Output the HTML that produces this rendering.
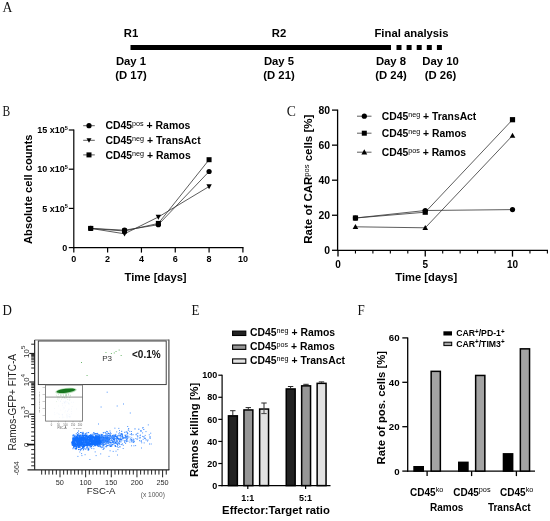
<!DOCTYPE html>
<html lang="en"><head><meta charset="utf-8"><title>Figure</title>
<style>
html,body{margin:0;padding:0;background:#fff;}
body{width:550px;height:521px;overflow:hidden;font-family:"Liberation Sans",Arial,sans-serif;}
svg{display:block;}
svg text{font-family:"Liberation Sans",Arial,sans-serif;}
svg text.pl{font-family:"Liberation Serif","DejaVu Serif",serif;}
</style></head><body>
<svg width="550" height="521" viewBox="0 0 550 521">
<rect width="550" height="521" fill="#fff"/>
<text class="pl" font-size="13.7" fill="#111" transform="translate(2.5,12.0) scale(1.0,1)">A</text>
<text class="pl" font-size="13.7" fill="#111" transform="translate(2.6,115.6) scale(0.84,1)">B</text>
<text class="pl" font-size="13.7" fill="#111" transform="translate(286.7,116.1) scale(1.0,1)">C</text>
<text class="pl" font-size="13.7" fill="#111" transform="translate(2.6,315.4) scale(0.95,1)">D</text>
<text class="pl" font-size="13.7" fill="#111" transform="translate(191.4,315.3) scale(0.95,1)">E</text>
<text class="pl" font-size="13.7" fill="#111" transform="translate(357.4,315.3) scale(0.95,1)">F</text>
<rect x="130.5" y="45" width="260.5" height="5" fill="#000"/>
<rect x="396.5" y="45" width="5" height="5" fill="#000"/>
<rect x="406.6" y="45" width="5" height="5" fill="#000"/>
<rect x="416.7" y="45" width="5" height="5" fill="#000"/>
<rect x="426.8" y="45" width="5" height="5" fill="#000"/>
<rect x="436.9" y="45" width="5" height="5" fill="#000"/>
<text x="131" y="36.5" font-size="11.3" font-weight="bold" text-anchor="middle" fill="#000" >R1</text>
<text x="279" y="36.5" font-size="11.3" font-weight="bold" text-anchor="middle" fill="#000" >R2</text>
<text x="411.5" y="36.5" font-size="11.3" font-weight="bold" text-anchor="middle" fill="#000" >Final analysis</text>
<text x="131" y="65.3" font-size="11.3" font-weight="bold" text-anchor="middle" fill="#000" >Day 1</text>
<text x="131" y="79.3" font-size="11.3" font-weight="bold" text-anchor="middle" fill="#000" >(D 17)</text>
<text x="279" y="65.3" font-size="11.3" font-weight="bold" text-anchor="middle" fill="#000" >Day 5</text>
<text x="279" y="79.3" font-size="11.3" font-weight="bold" text-anchor="middle" fill="#000" >(D 21)</text>
<text x="391" y="65.3" font-size="11.3" font-weight="bold" text-anchor="middle" fill="#000" >Day 8</text>
<text x="391" y="79.3" font-size="11.3" font-weight="bold" text-anchor="middle" fill="#000" >(D 24)</text>
<text x="440.5" y="65.3" font-size="11.3" font-weight="bold" text-anchor="middle" fill="#000" >Day 10</text>
<text x="440.5" y="79.3" font-size="11.3" font-weight="bold" text-anchor="middle" fill="#000" >(D 26)</text>
<line x1="73.8" y1="129.5" x2="73.8" y2="248.2" stroke="#000" stroke-width="1.2" />
<line x1="73.2" y1="247.6" x2="243.5" y2="247.6" stroke="#000" stroke-width="1.2" />
<line x1="68.8" y1="247.6" x2="73.8" y2="247.6" stroke="#000" stroke-width="1.2" />
<text x="67.3" y="250.79999999999998" font-size="9" font-weight="bold" text-anchor="end" fill="#000" >0</text>
<line x1="68.8" y1="208.39999999999998" x2="73.8" y2="208.39999999999998" stroke="#000" stroke-width="1.2" />
<text x="67.8" y="211.59999999999997" font-size="9" font-weight="bold" text-anchor="end" fill="#000" >5 x10<tspan font-size="5.5" font-weight="bold" dy="-3.5">5</tspan><tspan dy="3.5" font-size="1">&#8203;</tspan></text>
<line x1="68.8" y1="169.2" x2="73.8" y2="169.2" stroke="#000" stroke-width="1.2" />
<text x="67.8" y="172.39999999999998" font-size="9" font-weight="bold" text-anchor="end" fill="#000" >10 x10<tspan font-size="5.5" font-weight="bold" dy="-3.5">5</tspan><tspan dy="3.5" font-size="1">&#8203;</tspan></text>
<line x1="68.8" y1="130.0" x2="73.8" y2="130.0" stroke="#000" stroke-width="1.2" />
<text x="67.8" y="133.2" font-size="9" font-weight="bold" text-anchor="end" fill="#000" >15 x10<tspan font-size="5.5" font-weight="bold" dy="-3.5">5</tspan><tspan dy="3.5" font-size="1">&#8203;</tspan></text>
<line x1="73.8" y1="247.6" x2="73.8" y2="252.6" stroke="#000" stroke-width="1.2" />
<text x="73.8" y="262" font-size="9" font-weight="bold" text-anchor="middle" fill="#000" >0</text>
<line x1="107.62" y1="247.6" x2="107.62" y2="252.6" stroke="#000" stroke-width="1.2" />
<text x="107.62" y="262" font-size="9" font-weight="bold" text-anchor="middle" fill="#000" >2</text>
<line x1="141.44" y1="247.6" x2="141.44" y2="252.6" stroke="#000" stroke-width="1.2" />
<text x="141.44" y="262" font-size="9" font-weight="bold" text-anchor="middle" fill="#000" >4</text>
<line x1="175.26" y1="247.6" x2="175.26" y2="252.6" stroke="#000" stroke-width="1.2" />
<text x="175.26" y="262" font-size="9" font-weight="bold" text-anchor="middle" fill="#000" >6</text>
<line x1="209.07999999999998" y1="247.6" x2="209.07999999999998" y2="252.6" stroke="#000" stroke-width="1.2" />
<text x="209.07999999999998" y="262" font-size="9" font-weight="bold" text-anchor="middle" fill="#000" >8</text>
<line x1="242.89999999999998" y1="247.6" x2="242.89999999999998" y2="252.6" stroke="#000" stroke-width="1.2" />
<text x="242.89999999999998" y="262" font-size="9" font-weight="bold" text-anchor="middle" fill="#000" >10</text>
<text x="155.6" y="281" font-size="11.2" font-weight="bold" text-anchor="middle" fill="#000" >Time [days]</text>
<text x="0" y="0" font-size="11.2" font-weight="bold" text-anchor="middle" fill="#000" transform="translate(32.2,189.3) rotate(-90)">Absolute cell counts</text>
<polyline fill="none" stroke="#333" stroke-width="0.8" points="90.71,228.4 124.53,230.2 158.35,224.7 209.07999999999998,171.5"/>
<polyline fill="none" stroke="#333" stroke-width="0.8" points="90.71,228.4 124.53,233.8 158.35,217 209.07999999999998,186.5"/>
<polyline fill="none" stroke="#333" stroke-width="0.8" points="90.71,228.4 124.53,231 158.35,223.4 209.07999999999998,159.7"/>
<circle cx="90.71" cy="228.4" r="2.6" fill="#000"/>
<circle cx="124.53" cy="230.2" r="2.6" fill="#000"/>
<circle cx="158.35" cy="224.7" r="2.6" fill="#000"/>
<circle cx="209.07999999999998" cy="171.5" r="2.6" fill="#000"/>
<polygon points="90.71,231.1 88.00999999999999,226.24 93.41,226.24" fill="#000"/>
<polygon points="124.53,236.5 121.83,231.64000000000001 127.23,231.64000000000001" fill="#000"/>
<polygon points="158.35,219.7 155.65,214.84 161.04999999999998,214.84" fill="#000"/>
<polygon points="209.07999999999998,189.2 206.38,184.34 211.77999999999997,184.34" fill="#000"/>
<rect x="88.21" y="225.9" width="5.0" height="5.0" fill="#000"/>
<rect x="122.03" y="228.5" width="5.0" height="5.0" fill="#000"/>
<rect x="155.85" y="220.9" width="5.0" height="5.0" fill="#000"/>
<rect x="206.57999999999998" y="157.2" width="5.0" height="5.0" fill="#000"/>
<line x1="83.2" y1="125.7" x2="94.8" y2="125.7" stroke="#333" stroke-width="0.8" />
<circle cx="89" cy="125.7" r="2.6" fill="#000"/>
<line x1="83.2" y1="140.3" x2="94.8" y2="140.3" stroke="#333" stroke-width="0.8" />
<polygon points="89,142.8 86.5,138.3 91.5,138.3" fill="#000"/>
<line x1="83.2" y1="154.9" x2="94.8" y2="154.9" stroke="#333" stroke-width="0.8" />
<rect x="86.5" y="152.4" width="5.0" height="5.0" fill="#000"/>
<text x="105.4" y="128.9" font-size="10.45" font-weight="bold" text-anchor="start" fill="#000" >CD45<tspan font-size="7.2" font-weight="normal" dy="-3.2">pos</tspan><tspan dy="3.2" font-size="1">&#8203;</tspan> + Ramos</text>
<text x="105.4" y="143.8" font-size="10.45" font-weight="bold" text-anchor="start" fill="#000" >CD45<tspan font-size="7.2" font-weight="normal" dy="-3.2">neg</tspan><tspan dy="3.2" font-size="1">&#8203;</tspan> + TransAct</text>
<text x="105.4" y="158.8" font-size="10.45" font-weight="bold" text-anchor="start" fill="#000" >CD45<tspan font-size="7.2" font-weight="normal" dy="-3.2">neg</tspan><tspan dy="3.2" font-size="1">&#8203;</tspan> + Ramos</text>
<line x1="337.6" y1="109.6" x2="337.6" y2="250.9" stroke="#000" stroke-width="1.3" />
<line x1="337.0" y1="250.3" x2="548" y2="250.3" stroke="#000" stroke-width="1.3" />
<line x1="332" y1="250.3" x2="337.6" y2="250.3" stroke="#000" stroke-width="1.3" />
<text x="330" y="254.0" font-size="10.4" font-weight="bold" text-anchor="end" fill="#000" >0</text>
<line x1="332" y1="215.25" x2="337.6" y2="215.25" stroke="#000" stroke-width="1.3" />
<text x="330" y="218.95" font-size="10.4" font-weight="bold" text-anchor="end" fill="#000" >20</text>
<line x1="332" y1="180.20000000000002" x2="337.6" y2="180.20000000000002" stroke="#000" stroke-width="1.3" />
<text x="330" y="183.9" font-size="10.4" font-weight="bold" text-anchor="end" fill="#000" >40</text>
<line x1="332" y1="145.15000000000003" x2="337.6" y2="145.15000000000003" stroke="#000" stroke-width="1.3" />
<text x="330" y="148.85000000000002" font-size="10.4" font-weight="bold" text-anchor="end" fill="#000" >60</text>
<line x1="332" y1="110.10000000000002" x2="337.6" y2="110.10000000000002" stroke="#000" stroke-width="1.3" />
<text x="330" y="113.80000000000003" font-size="10.4" font-weight="bold" text-anchor="end" fill="#000" >80</text>
<line x1="338.0" y1="250.3" x2="338.0" y2="256.6" stroke="#000" stroke-width="1.3" />
<text x="338.0" y="267.5" font-size="10" font-weight="bold" text-anchor="middle" fill="#000" >0</text>
<line x1="355.45" y1="250.3" x2="355.45" y2="253.60000000000002" stroke="#000" stroke-width="1.1" />
<line x1="372.9" y1="250.3" x2="372.9" y2="253.60000000000002" stroke="#000" stroke-width="1.1" />
<line x1="390.35" y1="250.3" x2="390.35" y2="253.60000000000002" stroke="#000" stroke-width="1.1" />
<line x1="407.8" y1="250.3" x2="407.8" y2="253.60000000000002" stroke="#000" stroke-width="1.1" />
<line x1="425.25" y1="250.3" x2="425.25" y2="256.6" stroke="#000" stroke-width="1.3" />
<text x="425.25" y="267.5" font-size="10" font-weight="bold" text-anchor="middle" fill="#000" >5</text>
<line x1="442.7" y1="250.3" x2="442.7" y2="253.60000000000002" stroke="#000" stroke-width="1.1" />
<line x1="460.15" y1="250.3" x2="460.15" y2="253.60000000000002" stroke="#000" stroke-width="1.1" />
<line x1="477.6" y1="250.3" x2="477.6" y2="253.60000000000002" stroke="#000" stroke-width="1.1" />
<line x1="495.04999999999995" y1="250.3" x2="495.04999999999995" y2="253.60000000000002" stroke="#000" stroke-width="1.1" />
<line x1="512.5" y1="250.3" x2="512.5" y2="256.6" stroke="#000" stroke-width="1.3" />
<text x="512.5" y="267.5" font-size="10" font-weight="bold" text-anchor="middle" fill="#000" >10</text>
<line x1="529.95" y1="250.3" x2="529.95" y2="253.60000000000002" stroke="#000" stroke-width="1.1" />
<line x1="547.4" y1="250.3" x2="547.4" y2="253.60000000000002" stroke="#000" stroke-width="1.1" />
<text x="426.3" y="281" font-size="11.2" font-weight="bold" text-anchor="middle" fill="#000" >Time [days]</text>
<text x="0" y="0" font-size="11.5" font-weight="bold" text-anchor="middle" fill="#000" transform="translate(312,179.2) rotate(-90)">Rate of CAR<tspan font-size="7.5" font-weight="normal" dy="-3.5">pos</tspan><tspan dy="3.5" font-size="1">&#8203;</tspan> cells [%]</text>
<polyline fill="none" stroke="#333" stroke-width="0.8" points="355.45,218 425.25,210.5 512.5,209.6"/>
<polyline fill="none" stroke="#333" stroke-width="0.8" points="355.45,218 425.25,212.2 512.5,119.7"/>
<polyline fill="none" stroke="#333" stroke-width="0.8" points="355.45,226.8 425.25,227.8 512.5,135.6"/>
<circle cx="355.45" cy="218" r="2.6" fill="#000"/>
<circle cx="425.25" cy="210.5" r="2.6" fill="#000"/>
<circle cx="512.5" cy="209.6" r="2.6" fill="#000"/>
<polygon points="355.45,224.0 352.65,229.04000000000002 358.25,229.04000000000002" fill="#000"/>
<polygon points="425.25,225.0 422.45,230.04000000000002 428.05,230.04000000000002" fill="#000"/>
<polygon points="512.5,132.79999999999998 509.7,137.84 515.3,137.84" fill="#000"/>
<rect x="352.84999999999997" y="215.4" width="5.2" height="5.2" fill="#000"/>
<rect x="422.65" y="209.6" width="5.2" height="5.2" fill="#000"/>
<rect x="509.9" y="117.10000000000001" width="5.2" height="5.2" fill="#000"/>
<line x1="357" y1="116.2" x2="371.5" y2="116.2" stroke="#333" stroke-width="0.8" />
<circle cx="364.3" cy="116.2" r="2.6" fill="#000"/>
<line x1="357" y1="133.2" x2="371.5" y2="133.2" stroke="#333" stroke-width="0.8" />
<rect x="361.8" y="130.7" width="5.0" height="5.0" fill="#000"/>
<line x1="357" y1="152.2" x2="371.5" y2="152.2" stroke="#333" stroke-width="0.8" />
<polygon points="364.3,149.29999999999998 361.40000000000003,154.51999999999998 367.2,154.51999999999998" fill="#000"/>
<text x="381.8" y="119.8" font-size="10.35" font-weight="bold" text-anchor="start" fill="#000" >CD45<tspan font-size="7.2" font-weight="normal" dy="-3.2">neg</tspan><tspan dy="3.2" font-size="1">&#8203;</tspan> + TransAct</text>
<text x="381.8" y="136.9" font-size="10.35" font-weight="bold" text-anchor="start" fill="#000" >CD45<tspan font-size="7.2" font-weight="normal" dy="-3.2">neg</tspan><tspan dy="3.2" font-size="1">&#8203;</tspan> + Ramos</text>
<text x="381.8" y="156" font-size="10.35" font-weight="bold" text-anchor="start" fill="#000" >CD45<tspan font-size="7.2" font-weight="normal" dy="-3.2">pos</tspan><tspan dy="3.2" font-size="1">&#8203;</tspan> + Ramos</text>
<path d="M34.6,470 V340 H168.8" fill="none" stroke="#777" stroke-width="1.0"/>
<line x1="168.9" y1="339.6" x2="168.9" y2="470" stroke="#4a4a4a" stroke-width="1.2" />
<line x1="27.5" y1="469.9" x2="169.3" y2="469.9" stroke="#222" stroke-width="1.2" />
<line x1="34.6" y1="340" x2="34.6" y2="470" stroke="#333" stroke-width="1.2" />
<rect x="38.3" y="341" width="127.9" height="43.6" fill="none" stroke="#2f2f2f" stroke-width="0.9"/>
<rect x="45.6" y="385" width="36.9" height="36.1" fill="none" stroke="#666" stroke-width="0.8"/>
<line x1="45.6" y1="397.1" x2="82.5" y2="397.1" stroke="#666" stroke-width="0.7" />
<ellipse cx="66" cy="390.7" rx="9.6" ry="2.0" fill="#0a6312" transform="rotate(-7 66 390.7)"/>
<ellipse cx="66" cy="390.9" rx="10.8" ry="2.9" fill="#2a9a30" opacity="0.35" transform="rotate(-7 66 390.9)"/>
<path d="M63.0,395.5h.5M63.1,394.9h.5M60.3,394.6h.5M68.4,395.3h.5M68.1,394.7h.5M65.6,394.6h.5M57.3,396.6h.5M66.0,395.5h.5M57.2,399.2h.5M60.4,395.4h.5M65.2,394.1h.5M66.1,395.9h.5M65.2,395.2h.5M61.4,399.2h.5M66.2,397.6h.5M61.5,396.2h.5M62.6,394.3h.5M66.5,394.7h.5M62.2,396.9h.5M61.9,397.7h.5M60.8,394.7h.5M65.7,398.5h.5M64.2,397.9h.5M55.9,395.0h.5M63.6,396.5h.5M66.0,394.2h.5M58.1,396.5h.5M66.7,396.8h.5M69.8,395.1h.5M64.5,397.9h.5M66.5,395.8h.5M62.2,397.8h.5M60.1,395.6h.5M69.2,400.1h.5M58.2,394.7h.5M69.8,395.7h.5M56.4,401.6h.5M65.4,396.2h.5M59.5,396.9h.5M68.4,394.5h.5M65.0,395.3h.5M70.4,395.9h.5M66.1,395.6h.5M57.7,397.8h.5M67.8,395.6h.5M56.1,395.9h.5M67.4,399.4h.5M63.3,397.1h.5M58.8,398.8h.5M66.2,394.5h.5M65.3,395.9h.5M64.5,397.4h.5M61.4,395.2h.5M68.2,394.1h.5M60.5,396.8h.5M69.9,395.3h.5M58.5,394.4h.5M63.4,394.9h.5M69.6,397.1h.5M69.0,397.8h.5" stroke="#5aa860" stroke-width=".5" opacity=".6" fill="none"/>
<path d="M60.1,401.0h.5M67.2,411.1h.5M65.7,403.0h.5M64.7,402.1h.5M63.1,399.0h.5M65.4,401.9h.5M67.8,399.5h.5M66.8,415.6h.5M61.9,403.8h.5M62.1,405.6h.5M62.3,415.1h.5M65.9,417.9h.5M58.4,400.6h.5M65.2,400.9h.5M61.8,414.7h.5M67.3,402.1h.5M76.2,409.0h.5M65.8,401.8h.5M62.9,409.0h.5M63.7,417.6h.5M69.0,404.0h.5M58.2,406.0h.5M68.3,409.1h.5M71.5,413.8h.5M62.3,414.4h.5M67.1,417.7h.5M69.4,414.5h.5M56.8,413.1h.5M64.9,405.8h.5M70.0,399.6h.5M68.0,403.9h.5M64.7,412.2h.5M69.2,416.8h.5M62.5,417.8h.5M68.6,403.2h.5M62.7,403.3h.5M65.1,410.9h.5M67.2,416.1h.5M67.1,411.4h.5M59.2,414.2h.5M70.3,416.3h.5M67.7,413.9h.5M64.0,402.4h.5M58.3,414.0h.5M59.5,417.5h.5M71.8,406.5h.5M54.1,412.8h.5M71.0,402.2h.5M66.0,416.2h.5M66.0,414.3h.5M69.7,417.6h.5M71.4,411.5h.5M60.3,401.5h.5M69.1,399.3h.5M71.1,409.0h.5M62.7,416.7h.5M54.7,414.7h.5M68.1,403.0h.5M64.0,403.6h.5M68.2,410.1h.5M63.7,401.5h.5M69.2,416.3h.5M60.6,410.1h.5M68.4,416.2h.5M54.2,408.5h.5M69.3,409.1h.5M63.0,407.4h.5M63.9,402.5h.5M73.0,402.3h.5M64.2,408.0h.5"  stroke="#9bbcf0" stroke-width=".5" opacity=".35" fill="none"/>
<text x="0" y="0" font-size="2.2" font-weight="normal" text-anchor="middle" fill="#777" transform="translate(40.3,402) rotate(-90)">Ramos-GFP+ FITC-A</text>
<text x="43.5" y="388" font-size="1.8" font-weight="normal" text-anchor="middle" fill="#777" >10</text>
<line x1="44.3" y1="387.5" x2="45.6" y2="387.5" stroke="#888" stroke-width="0.4" />
<text x="43.5" y="395" font-size="1.8" font-weight="normal" text-anchor="middle" fill="#777" >10</text>
<line x1="44.3" y1="394.5" x2="45.6" y2="394.5" stroke="#888" stroke-width="0.4" />
<text x="43.5" y="402" font-size="1.8" font-weight="normal" text-anchor="middle" fill="#777" >10</text>
<line x1="44.3" y1="401.5" x2="45.6" y2="401.5" stroke="#888" stroke-width="0.4" />
<text x="43.5" y="409" font-size="1.8" font-weight="normal" text-anchor="middle" fill="#777" >10</text>
<line x1="44.3" y1="408.5" x2="45.6" y2="408.5" stroke="#888" stroke-width="0.4" />
<text x="43.5" y="416" font-size="1.8" font-weight="normal" text-anchor="middle" fill="#777" >10</text>
<line x1="44.3" y1="415.5" x2="45.6" y2="415.5" stroke="#888" stroke-width="0.4" />
<text x="51.5" y="425.6" font-size="2.6" font-weight="normal" text-anchor="middle" fill="#666" >0</text>
<line x1="51.5" y1="421.1" x2="51.5" y2="422.4" stroke="#777" stroke-width="0.4" />
<text x="58.5" y="425.6" font-size="2.6" font-weight="normal" text-anchor="middle" fill="#666" >50</text>
<line x1="58.5" y1="421.1" x2="58.5" y2="422.4" stroke="#777" stroke-width="0.4" />
<text x="65.5" y="425.6" font-size="2.6" font-weight="normal" text-anchor="middle" fill="#666" >100</text>
<line x1="65.5" y1="421.1" x2="65.5" y2="422.4" stroke="#777" stroke-width="0.4" />
<text x="73" y="425.6" font-size="2.6" font-weight="normal" text-anchor="middle" fill="#666" >150</text>
<line x1="73" y1="421.1" x2="73" y2="422.4" stroke="#777" stroke-width="0.4" />
<text x="80" y="425.6" font-size="2.6" font-weight="normal" text-anchor="middle" fill="#666" >200</text>
<line x1="80" y1="421.1" x2="80" y2="422.4" stroke="#777" stroke-width="0.4" />
<text x="62" y="428.8" font-size="3" font-weight="normal" text-anchor="middle" fill="#555" >FSC-A</text>
<text x="77.5" y="428.8" font-size="2.4" font-weight="normal" text-anchor="middle" fill="#666" >(x 1000)</text>
<line x1="31.2" y1="344.2" x2="34.6" y2="344.2" stroke="#222" stroke-width="1" />
<line x1="31.2" y1="354.6" x2="34.6" y2="354.6" stroke="#222" stroke-width="1" />
<line x1="31.2" y1="355.6" x2="34.6" y2="355.6" stroke="#222" stroke-width="1" />
<line x1="31.2" y1="356.8" x2="34.6" y2="356.8" stroke="#222" stroke-width="1" />
<line x1="31.2" y1="358.2" x2="34.6" y2="358.2" stroke="#222" stroke-width="1" />
<line x1="31.2" y1="359.8" x2="34.6" y2="359.8" stroke="#222" stroke-width="1" />
<line x1="31.2" y1="361.8" x2="34.6" y2="361.8" stroke="#222" stroke-width="1" />
<line x1="31.2" y1="364.3" x2="34.6" y2="364.3" stroke="#222" stroke-width="1" />
<line x1="31.2" y1="368" x2="34.6" y2="368" stroke="#222" stroke-width="1" />
<line x1="31.2" y1="373.5" x2="34.6" y2="373.5" stroke="#222" stroke-width="1" />
<line x1="31.2" y1="383.3" x2="34.6" y2="383.3" stroke="#222" stroke-width="1" />
<line x1="31.2" y1="384.6" x2="34.6" y2="384.6" stroke="#222" stroke-width="1" />
<line x1="31.2" y1="386" x2="34.6" y2="386" stroke="#222" stroke-width="1" />
<line x1="31.2" y1="387.6" x2="34.6" y2="387.6" stroke="#222" stroke-width="1" />
<line x1="31.2" y1="389.5" x2="34.6" y2="389.5" stroke="#222" stroke-width="1" />
<line x1="31.2" y1="391.8" x2="34.6" y2="391.8" stroke="#222" stroke-width="1" />
<line x1="31.2" y1="394.8" x2="34.6" y2="394.8" stroke="#222" stroke-width="1" />
<line x1="31.2" y1="398.8" x2="34.6" y2="398.8" stroke="#222" stroke-width="1" />
<line x1="31.2" y1="404.6" x2="34.6" y2="404.6" stroke="#222" stroke-width="1" />
<line x1="31.2" y1="416.5" x2="34.6" y2="416.5" stroke="#222" stroke-width="1" />
<line x1="31.2" y1="418.8" x2="34.6" y2="418.8" stroke="#222" stroke-width="1" />
<line x1="31.2" y1="421.5" x2="34.6" y2="421.5" stroke="#222" stroke-width="1" />
<line x1="31.2" y1="424.2" x2="34.6" y2="424.2" stroke="#222" stroke-width="1" />
<line x1="31.2" y1="427.6" x2="34.6" y2="427.6" stroke="#222" stroke-width="1" />
<line x1="31.2" y1="431.9" x2="34.6" y2="431.9" stroke="#222" stroke-width="1" />
<line x1="31.2" y1="436.2" x2="34.6" y2="436.2" stroke="#222" stroke-width="1" />
<line x1="31.2" y1="440.4" x2="34.6" y2="440.4" stroke="#222" stroke-width="1" />
<line x1="31.2" y1="449.6" x2="34.6" y2="449.6" stroke="#222" stroke-width="1" />
<line x1="31.2" y1="454.2" x2="34.6" y2="454.2" stroke="#222" stroke-width="1" />
<line x1="31.2" y1="458" x2="34.6" y2="458" stroke="#222" stroke-width="1" />
<line x1="31.2" y1="462" x2="34.6" y2="462" stroke="#222" stroke-width="1" />
<line x1="31.2" y1="465.8" x2="34.6" y2="465.8" stroke="#222" stroke-width="1" />
<line x1="29.3" y1="353.5" x2="34.6" y2="353.5" stroke="#222" stroke-width="1.2" />
<line x1="29.3" y1="382" x2="34.6" y2="382" stroke="#222" stroke-width="1.2" />
<line x1="29.3" y1="414.2" x2="34.6" y2="414.2" stroke="#222" stroke-width="1.2" />
<line x1="27" y1="444.6" x2="34.6" y2="444.6" stroke="#111" stroke-width="1.7" />
<line x1="41.67857142857143" y1="470" x2="41.67857142857143" y2="474.6" stroke="#222" stroke-width="1.0" />
<line x1="45.34285714285714" y1="470" x2="45.34285714285714" y2="474.6" stroke="#222" stroke-width="1.0" />
<line x1="49.00714285714286" y1="470" x2="49.00714285714286" y2="474.6" stroke="#222" stroke-width="1.0" />
<line x1="52.67142857142857" y1="470" x2="52.67142857142857" y2="474.6" stroke="#222" stroke-width="1.0" />
<line x1="56.33571428571429" y1="470" x2="56.33571428571429" y2="474.6" stroke="#222" stroke-width="1.0" />
<line x1="60.0" y1="470" x2="60.0" y2="477.3" stroke="#222" stroke-width="1.0" />
<line x1="63.66428571428571" y1="470" x2="63.66428571428571" y2="474.6" stroke="#222" stroke-width="1.0" />
<line x1="67.32857142857142" y1="470" x2="67.32857142857142" y2="474.6" stroke="#222" stroke-width="1.0" />
<line x1="70.99285714285715" y1="470" x2="70.99285714285715" y2="474.6" stroke="#222" stroke-width="1.0" />
<line x1="74.65714285714286" y1="470" x2="74.65714285714286" y2="474.6" stroke="#222" stroke-width="1.0" />
<line x1="78.32142857142857" y1="470" x2="78.32142857142857" y2="474.6" stroke="#222" stroke-width="1.0" />
<line x1="81.98571428571428" y1="470" x2="81.98571428571428" y2="474.6" stroke="#222" stroke-width="1.0" />
<line x1="85.65" y1="470" x2="85.65" y2="477.3" stroke="#222" stroke-width="1.0" />
<line x1="89.31428571428572" y1="470" x2="89.31428571428572" y2="474.6" stroke="#222" stroke-width="1.0" />
<line x1="92.97857142857143" y1="470" x2="92.97857142857143" y2="474.6" stroke="#222" stroke-width="1.0" />
<line x1="96.64285714285714" y1="470" x2="96.64285714285714" y2="474.6" stroke="#222" stroke-width="1.0" />
<line x1="100.30714285714285" y1="470" x2="100.30714285714285" y2="474.6" stroke="#222" stroke-width="1.0" />
<line x1="103.97142857142856" y1="470" x2="103.97142857142856" y2="474.6" stroke="#222" stroke-width="1.0" />
<line x1="107.63571428571429" y1="470" x2="107.63571428571429" y2="474.6" stroke="#222" stroke-width="1.0" />
<line x1="111.3" y1="470" x2="111.3" y2="477.3" stroke="#222" stroke-width="1.0" />
<line x1="114.96428571428572" y1="470" x2="114.96428571428572" y2="474.6" stroke="#222" stroke-width="1.0" />
<line x1="118.62857142857143" y1="470" x2="118.62857142857143" y2="474.6" stroke="#222" stroke-width="1.0" />
<line x1="122.29285714285714" y1="470" x2="122.29285714285714" y2="474.6" stroke="#222" stroke-width="1.0" />
<line x1="125.95714285714286" y1="470" x2="125.95714285714286" y2="474.6" stroke="#222" stroke-width="1.0" />
<line x1="129.62142857142857" y1="470" x2="129.62142857142857" y2="474.6" stroke="#222" stroke-width="1.0" />
<line x1="133.28571428571428" y1="470" x2="133.28571428571428" y2="474.6" stroke="#222" stroke-width="1.0" />
<line x1="136.95" y1="470" x2="136.95" y2="477.3" stroke="#222" stroke-width="1.0" />
<line x1="140.6142857142857" y1="470" x2="140.6142857142857" y2="474.6" stroke="#222" stroke-width="1.0" />
<line x1="144.2785714285714" y1="470" x2="144.2785714285714" y2="474.6" stroke="#222" stroke-width="1.0" />
<line x1="147.94285714285712" y1="470" x2="147.94285714285712" y2="474.6" stroke="#222" stroke-width="1.0" />
<line x1="151.60714285714283" y1="470" x2="151.60714285714283" y2="474.6" stroke="#222" stroke-width="1.0" />
<line x1="155.27142857142857" y1="470" x2="155.27142857142857" y2="474.6" stroke="#222" stroke-width="1.0" />
<line x1="158.93571428571428" y1="470" x2="158.93571428571428" y2="474.6" stroke="#222" stroke-width="1.0" />
<line x1="162.6" y1="470" x2="162.6" y2="477.3" stroke="#222" stroke-width="1.0" />
<line x1="166.2642857142857" y1="470" x2="166.2642857142857" y2="474.6" stroke="#222" stroke-width="1.0" />
<text x="59.8" y="484.9" font-size="7.3" font-weight="normal" text-anchor="middle" fill="#2a2a2a" >50</text>
<text x="85.5" y="484.9" font-size="7.3" font-weight="normal" text-anchor="middle" fill="#2a2a2a" >100</text>
<text x="111.19999999999999" y="484.9" font-size="7.3" font-weight="normal" text-anchor="middle" fill="#2a2a2a" >150</text>
<text x="136.89999999999998" y="484.9" font-size="7.3" font-weight="normal" text-anchor="middle" fill="#2a2a2a" >200</text>
<text x="162.6" y="484.9" font-size="7.3" font-weight="normal" text-anchor="middle" fill="#2a2a2a" >250</text>
<text x="101.1" y="493.6" font-size="9.6" font-weight="normal" text-anchor="middle" fill="#222" >FSC-A</text>
<text x="152.8" y="497" font-size="6.6" font-weight="normal" text-anchor="middle" fill="#555" >(x 1000)</text>
<text x="0" y="0" font-size="10" font-weight="normal" text-anchor="middle" fill="#222" transform="translate(15.7,402.3) rotate(-90)">Ramos-GFP+ FITC-A</text>
<text x="0" y="0" font-size="7.9" font-weight="normal" text-anchor="start" fill="#2a2a2a" transform="translate(28.6,357.9) rotate(-90)">10<tspan font-size="6.2" font-weight="normal" dy="-3.9">5</tspan><tspan dy="3.9" font-size="1">&#8203;</tspan></text>
<text x="0" y="0" font-size="7.9" font-weight="normal" text-anchor="start" fill="#2a2a2a" transform="translate(28.6,386.2) rotate(-90)">10<tspan font-size="6.2" font-weight="normal" dy="-3.9">4</tspan><tspan dy="3.9" font-size="1">&#8203;</tspan></text>
<text x="0" y="0" font-size="7.9" font-weight="normal" text-anchor="start" fill="#2a2a2a" transform="translate(28.6,418.6) rotate(-90)">10<tspan font-size="6.2" font-weight="normal" dy="-3.9">3</tspan><tspan dy="3.9" font-size="1">&#8203;</tspan></text>
<text x="0" y="0" font-size="7.9" font-weight="normal" text-anchor="middle" fill="#2a2a2a" transform="translate(28.6,444.7) rotate(-90)">0</text>
<text x="0" y="0" font-size="7" font-weight="normal" text-anchor="middle" fill="#333" transform="translate(19.3,468.3) rotate(-90)">-664</text>
<text x="102.2" y="361.2" font-size="8" font-weight="normal" text-anchor="start" fill="#333" >P3</text>
<text x="132" y="357.6" font-size="10" font-weight="bold" text-anchor="start" fill="#111" >&lt;0.1%</text>
<rect x="105.5" y="352.0" width="0.9" height="0.9" fill="#4aa64a"/>
<rect x="110.89999999999999" y="353.1" width="0.9" height="0.9" fill="#4aa64a"/>
<rect x="113.8" y="352.5" width="0.9" height="0.9" fill="#4aa64a"/>
<rect x="118.69999999999999" y="349.6" width="0.9" height="0.9" fill="#4aa64a"/>
<rect x="120.69999999999999" y="355.1" width="0.9" height="0.9" fill="#4aa64a"/>
<rect x="81.1" y="362.1" width="0.9" height="0.9" fill="#4aa64a"/>
<rect x="86.6" y="375.1" width="0.9" height="0.9" fill="#4aa64a"/>
<rect x="115.6" y="351.1" width="0.9" height="0.9" fill="#4aa64a"/>
<ellipse cx="88" cy="441.2" rx="16.5" ry="4.6" fill="#1370ff" transform="rotate(-3 88 441.2)"/>
<ellipse cx="97" cy="440.2" rx="13" ry="3.6" fill="#1370ff" transform="rotate(-4 97 440.2)"/>
<path d="M102.5,438.3h1M90.9,444.2h1M75.9,441.9h1M107.8,442.1h1M91.2,443.7h1M94.0,438.9h1M88.9,437.3h1M87.5,442.2h1M100.2,442.4h1M91.1,440.0h1M76.3,443.9h1M74.8,443.0h1M109.3,442.8h1M97.1,444.5h1M131.1,439.7h1M84.5,448.8h1M77.5,439.0h1M78.4,441.4h1M90.9,443.6h1M94.7,440.9h1M74.5,443.9h1M75.8,433.8h1M73.7,441.8h1M85.4,442.8h1M77.1,437.4h1M99.2,438.2h1M74.8,438.3h1M75.2,437.8h1M74.6,439.3h1M90.8,441.6h1M80.5,439.3h1M76.0,441.5h1M74.1,441.0h1M106.2,442.2h1M88.4,440.7h1M103.3,440.4h1M78.2,443.1h1M88.2,440.4h1M84.4,437.9h1M82.7,433.3h1M100.8,437.8h1M74.2,443.6h1M74.8,441.9h1M75.2,443.8h1M80.9,440.6h1M77.3,445.1h1M80.3,445.4h1M79.8,440.9h1M81.7,444.5h1M87.4,441.1h1M78.6,444.1h1M75.4,442.0h1M81.5,438.2h1M105.2,437.9h1M101.6,438.0h1M102.4,441.8h1M73.8,445.4h1M103.4,437.2h1M76.8,435.9h1M112.4,439.1h1M92.4,438.8h1M76.6,437.5h1M75.8,437.8h1M94.9,439.0h1M88.0,442.6h1M88.5,436.1h1M97.1,440.2h1M74.9,439.6h1M102.9,439.4h1M88.1,432.6h1M87.5,441.5h1M95.9,436.2h1M77.1,441.7h1M91.6,438.1h1M74.4,439.7h1M98.3,436.1h1M89.1,439.4h1M72.7,442.4h1M115.1,436.4h1M78.8,442.4h1M78.8,444.0h1M115.1,442.5h1M79.4,440.9h1M71.8,442.2h1M86.4,442.9h1M81.9,443.7h1M71.6,443.0h1M83.7,440.0h1M83.3,441.2h1M75.7,442.9h1M81.0,441.5h1M88.9,443.4h1M83.7,445.6h1M95.1,436.8h1M103.2,440.0h1M81.0,437.1h1M87.3,439.6h1M96.8,445.3h1M91.0,441.7h1M78.8,443.3h1M88.3,449.7h1M86.4,435.4h1M78.3,441.0h1M79.6,442.8h1M91.6,440.8h1M85.1,438.0h1M83.8,443.6h1M88.5,441.9h1M80.6,438.8h1M73.4,444.0h1M84.3,444.1h1M75.9,436.5h1M89.4,445.6h1M96.2,438.7h1M86.7,446.4h1M79.5,443.0h1M96.1,442.1h1M95.5,442.2h1M89.5,439.2h1M81.5,442.9h1M79.5,446.3h1M88.3,439.8h1M85.3,437.7h1M82.6,435.3h1M98.8,441.8h1M88.6,436.1h1M79.1,439.5h1M88.2,448.4h1M79.2,437.8h1M77.0,435.3h1M78.9,442.3h1M74.4,442.8h1M137.3,436.2h1M78.1,431.0h1M97.4,438.4h1M80.8,443.5h1M83.2,442.8h1M74.0,439.0h1M83.7,442.4h1M85.0,444.0h1M104.8,438.5h1M80.3,443.7h1M81.9,446.7h1M79.5,441.7h1M84.1,438.0h1M112.1,441.1h1M115.6,436.6h1M82.0,439.7h1M78.5,441.7h1M73.4,443.2h1M82.2,448.3h1M80.4,435.4h1M75.6,441.1h1M79.5,438.4h1M94.5,440.5h1M97.4,434.4h1M91.5,440.6h1M79.9,439.5h1M77.2,439.4h1M84.5,440.0h1M88.7,442.6h1M87.4,436.9h1M119.2,441.7h1M76.2,442.5h1M80.2,443.0h1M93.1,440.2h1M79.0,443.0h1M80.1,443.2h1M96.5,443.2h1M98.5,440.5h1M81.8,442.6h1M84.4,437.5h1M95.7,443.0h1M84.9,445.3h1M81.6,439.9h1M83.2,445.1h1M125.2,436.9h1M102.8,441.5h1M84.8,443.9h1M86.8,445.0h1M95.8,440.9h1M75.3,439.4h1M77.0,444.5h1M89.3,443.7h1M112.5,442.0h1M78.5,449.6h1M87.7,438.1h1M84.8,442.2h1M79.0,439.9h1M89.2,442.6h1M102.5,441.6h1M73.7,442.1h1M93.3,439.8h1M94.9,437.0h1M85.5,443.2h1M86.3,445.4h1M88.0,441.7h1M106.7,437.8h1M87.3,441.6h1M76.5,444.6h1M88.8,442.8h1M95.5,439.9h1M88.9,435.6h1M88.6,442.6h1M123.2,438.0h1M103.2,443.0h1M88.1,449.3h1M110.0,442.6h1M88.5,442.1h1M78.8,439.0h1M73.6,441.9h1M77.4,439.0h1M77.7,435.8h1M76.1,439.9h1M92.2,438.5h1M75.8,439.8h1M83.3,439.1h1M86.1,441.1h1M95.7,439.5h1M92.5,440.6h1M73.4,442.2h1M94.2,434.0h1M76.6,441.3h1M71.7,444.5h1M79.2,443.5h1M92.7,438.2h1M76.7,439.4h1M79.8,445.3h1M127.3,441.2h1M84.7,445.7h1M91.3,441.1h1M96.1,445.1h1M79.9,439.7h1M73.8,440.1h1M74.3,443.3h1M72.4,443.7h1M78.5,441.1h1M88.7,441.7h1M81.7,439.7h1M74.0,443.0h1M104.6,439.7h1M79.3,438.2h1M82.5,439.4h1M101.2,434.5h1M90.9,441.7h1M80.4,437.9h1M80.2,441.3h1M104.7,432.4h1M79.6,438.4h1M97.5,436.9h1M87.2,439.1h1M85.9,435.4h1M91.7,441.8h1M75.0,446.1h1M75.9,440.9h1M99.6,441.6h1M100.0,444.0h1M83.4,443.0h1M115.0,445.8h1M145.6,439.9h1M75.9,442.5h1M120.9,439.3h1M95.4,438.8h1M75.7,440.0h1M82.0,443.8h1M80.9,441.8h1M83.5,444.9h1M121.8,437.7h1M73.3,437.1h1M82.8,443.5h1M90.1,441.8h1M106.5,438.7h1M78.1,442.0h1M82.9,440.9h1M80.9,448.9h1M100.2,443.6h1M75.1,444.7h1M100.0,438.2h1M84.6,439.2h1M78.7,444.7h1M83.9,439.2h1M79.5,436.5h1M105.4,438.8h1M82.9,444.7h1M97.3,445.3h1M77.7,442.4h1M76.4,437.8h1M78.3,440.0h1M77.3,436.1h1M79.9,439.8h1M82.3,441.2h1M75.7,444.3h1M103.3,441.8h1M78.4,443.4h1M84.2,442.6h1M84.6,440.0h1M95.2,437.1h1M76.9,437.6h1M91.9,443.6h1M85.3,440.1h1M108.0,433.3h1M122.0,436.2h1M81.8,438.8h1M75.6,442.9h1M95.1,435.7h1M85.4,438.9h1M98.2,438.1h1M78.1,442.3h1M88.0,438.0h1M73.6,444.9h1M75.7,446.5h1M90.2,436.5h1M116.8,438.6h1M85.0,442.4h1M84.3,445.8h1M76.3,441.2h1M80.7,442.4h1M72.5,437.9h1M83.0,443.7h1M79.2,445.2h1M79.1,440.3h1M84.3,445.0h1M113.3,443.8h1M87.1,442.3h1M83.0,449.3h1M114.9,436.2h1M90.6,441.4h1M83.8,439.5h1M71.7,443.1h1M80.9,440.4h1M85.6,444.6h1M97.0,445.9h1M74.3,439.4h1M76.9,441.4h1M72.4,441.7h1M96.8,441.8h1M79.5,442.7h1M82.8,445.9h1M77.6,438.6h1M93.8,437.4h1M109.9,432.9h1M78.5,436.7h1M86.0,440.2h1M90.9,441.0h1M88.1,442.7h1M87.1,437.5h1M90.2,441.1h1M72.1,438.2h1M97.5,441.2h1M83.8,442.5h1M95.5,440.2h1M73.2,439.1h1M82.3,434.9h1M88.9,441.6h1M101.8,439.6h1M82.6,439.1h1M89.5,443.5h1M78.8,438.2h1M88.6,442.8h1M88.7,437.9h1M82.3,436.9h1M81.4,437.9h1M73.7,438.0h1M74.0,444.0h1M97.0,440.5h1M94.3,439.2h1M98.7,436.3h1M97.6,440.5h1M108.1,438.0h1M96.8,442.8h1M91.3,435.9h1M81.5,440.1h1M95.8,443.5h1M74.2,443.5h1M113.4,439.7h1M72.5,436.0h1M85.0,437.2h1M96.0,440.8h1M71.9,442.6h1M76.3,447.2h1M102.0,443.3h1M103.3,445.0h1M101.4,441.7h1M95.0,433.6h1M80.1,443.4h1M72.6,442.6h1M81.7,440.3h1M77.6,440.7h1M83.5,441.4h1M86.0,444.6h1M83.4,445.7h1M95.1,436.4h1M91.5,444.4h1M74.4,440.3h1M82.4,435.9h1M93.4,434.8h1M83.8,444.1h1M93.4,441.5h1M85.4,438.8h1M114.4,445.8h1M113.6,441.0h1M91.8,444.1h1M99.0,435.7h1M82.8,436.2h1M78.6,439.9h1M93.7,438.6h1M80.1,442.0h1M110.4,445.0h1M92.2,443.7h1M87.4,441.8h1M78.0,443.6h1M83.4,438.3h1M75.9,444.0h1M93.1,440.0h1M73.4,442.0h1M91.5,441.4h1M114.9,435.4h1M78.6,442.6h1M91.0,441.3h1M86.7,442.1h1M93.2,440.1h1M76.3,441.7h1M95.8,444.5h1M97.8,438.6h1M80.1,442.2h1M139.4,438.0h1M109.7,438.6h1M96.2,442.1h1M105.7,440.4h1M98.4,435.9h1M75.8,439.0h1M80.2,439.7h1M79.6,441.8h1M101.8,447.0h1M79.1,443.2h1M125.9,440.9h1M75.6,444.5h1M119.6,435.7h1M115.7,440.1h1M95.0,440.7h1M101.4,441.1h1M77.0,441.5h1M77.3,445.0h1M77.6,439.0h1M76.1,448.0h1M74.3,440.9h1M87.5,439.2h1M80.2,435.3h1M75.6,449.1h1M102.6,440.6h1M117.5,438.9h1M78.1,443.6h1M91.7,439.6h1M78.0,441.2h1M93.8,438.6h1M80.6,437.8h1M113.6,435.6h1M78.6,441.3h1M119.5,435.2h1M88.1,444.0h1M78.1,439.8h1M83.5,438.5h1M71.9,445.2h1M86.2,444.7h1M114.5,443.1h1M82.0,437.6h1M74.4,445.5h1M89.0,440.3h1M78.0,441.6h1M80.0,443.0h1M100.1,440.4h1M72.7,438.8h1M126.7,436.3h1M73.9,438.4h1M80.8,441.7h1M84.8,436.1h1M77.1,438.4h1M116.2,436.2h1M84.4,443.4h1M108.4,439.8h1M85.9,444.0h1M112.4,442.1h1M74.2,436.5h1M79.9,439.6h1M89.8,438.7h1M85.8,442.9h1M113.2,439.5h1M95.8,439.4h1M90.3,438.6h1M94.5,437.3h1M81.6,441.1h1M76.3,445.4h1M80.5,440.5h1M89.9,442.1h1M81.2,442.7h1M81.1,444.8h1M119.1,441.2h1M91.7,442.2h1M86.8,445.8h1M94.0,439.8h1M79.1,443.8h1M84.0,444.2h1M91.0,441.0h1M81.0,440.0h1M74.5,447.1h1M86.0,442.9h1M77.3,443.2h1M83.0,436.9h1M115.3,434.4h1M103.9,440.1h1M109.5,435.4h1M106.9,431.8h1M91.8,440.9h1M109.3,436.8h1M86.5,439.2h1M102.3,437.0h1M84.1,443.8h1M109.8,435.6h1M78.1,441.7h1M77.0,440.6h1M119.9,438.0h1M85.5,442.2h1M91.4,440.9h1M90.1,437.2h1M99.0,439.9h1M83.2,436.9h1M98.3,446.4h1M75.6,438.7h1M91.9,443.1h1M86.0,444.0h1M89.7,440.8h1M77.7,447.5h1M88.9,440.2h1M115.2,442.0h1M77.3,439.7h1M88.9,441.7h1M95.1,442.4h1M83.0,440.8h1M85.0,440.6h1M81.6,444.1h1M119.6,438.9h1M97.7,436.4h1M80.4,441.6h1M89.8,438.1h1M76.3,440.4h1M75.7,436.2h1M94.0,439.8h1M107.6,439.0h1M77.7,438.9h1M75.7,439.4h1M86.4,439.7h1M74.2,435.2h1M86.0,437.3h1M81.9,442.5h1M93.4,438.2h1M88.2,441.2h1M101.9,443.1h1M81.7,436.0h1M79.8,442.1h1M83.2,443.9h1M91.2,440.3h1M89.9,440.0h1M76.4,442.5h1M83.0,442.3h1M97.4,442.7h1M77.3,443.8h1M86.1,442.5h1M83.0,435.8h1M78.8,447.1h1M88.6,439.4h1M100.8,440.6h1M83.5,439.7h1M89.0,439.6h1M80.5,438.2h1M91.5,443.8h1M84.3,444.0h1M82.0,446.9h1M75.9,439.5h1M81.3,444.3h1M81.7,444.9h1M80.9,445.0h1M131.1,440.0h1M73.3,443.9h1M97.4,436.5h1M100.2,442.6h1M95.0,445.7h1M103.4,444.5h1M77.5,440.8h1M73.7,444.9h1M95.6,442.6h1M101.7,436.7h1M85.8,441.1h1M117.9,439.1h1M81.0,444.1h1M74.0,438.7h1M76.0,443.6h1M99.8,446.9h1M104.8,439.6h1M103.9,441.2h1M95.0,445.1h1M85.6,442.8h1M100.5,439.9h1M90.4,444.8h1M74.4,440.2h1M81.7,442.6h1M100.8,440.3h1M89.1,443.3h1M81.4,444.0h1M82.4,444.5h1M90.6,443.1h1M93.2,444.7h1M107.0,441.6h1M83.3,443.0h1M74.4,443.6h1M86.3,445.7h1M82.2,440.2h1M75.2,443.4h1M75.9,440.0h1M90.3,441.7h1M94.9,439.2h1M79.8,439.7h1M73.2,443.5h1M78.1,439.5h1M120.4,441.9h1M117.1,444.5h1M82.2,442.7h1M83.5,438.9h1M83.6,441.4h1M91.5,441.7h1M115.0,446.3h1M88.2,436.8h1M77.3,440.7h1M99.2,439.6h1M86.1,441.9h1M86.0,441.6h1M119.3,439.7h1M80.9,438.4h1M89.0,439.2h1M97.5,443.2h1M81.3,438.9h1M78.4,440.6h1M82.1,448.1h1M125.5,437.0h1M98.3,439.1h1M96.2,444.3h1M82.7,443.4h1M98.5,440.6h1M75.2,439.1h1M85.2,444.2h1M91.4,442.3h1M76.0,443.2h1M80.1,439.3h1M88.0,440.6h1M79.3,444.5h1M92.6,443.1h1M84.9,435.5h1M90.7,443.1h1M75.7,440.4h1M79.6,442.8h1M72.6,442.7h1M100.9,442.7h1M77.6,438.9h1M98.6,444.7h1M76.3,441.2h1M93.5,433.1h1M90.6,446.2h1M98.2,444.9h1M78.3,443.9h1M76.0,438.4h1M78.1,440.5h1M83.9,445.9h1M99.3,440.7h1M82.7,441.2h1M88.5,441.3h1M78.0,440.9h1M98.6,438.5h1M74.9,442.2h1M79.0,440.9h1M77.7,441.3h1M87.1,438.9h1M72.0,444.0h1M86.8,442.8h1M97.9,440.8h1M80.6,441.2h1M89.6,444.9h1M91.2,444.5h1M95.3,436.7h1M83.4,443.1h1M81.5,435.4h1M104.0,438.0h1M90.7,438.7h1M74.4,437.9h1M87.6,449.4h1M79.8,440.6h1M72.1,443.5h1M86.5,438.7h1M81.5,440.4h1M102.7,442.6h1M75.1,440.9h1M92.2,437.4h1M85.6,445.4h1M74.7,444.0h1M77.5,440.3h1M100.6,438.5h1M93.5,441.9h1M96.3,439.6h1M93.3,432.7h1M113.2,438.2h1M78.2,443.1h1M82.2,439.6h1M98.5,437.8h1M74.3,446.2h1M82.5,442.6h1M93.2,440.2h1M94.1,440.7h1M82.3,442.4h1M114.0,440.9h1M90.1,436.6h1M93.4,439.1h1M104.1,438.6h1M108.3,433.7h1M107.8,437.2h1M89.4,441.7h1M87.4,441.5h1M73.2,439.2h1M74.4,440.1h1M77.1,441.1h1M103.8,440.3h1M95.5,441.1h1M111.8,435.9h1M75.9,447.9h1M74.6,436.9h1M74.4,445.6h1M84.9,445.3h1M79.2,440.2h1M80.3,441.8h1M106.2,441.8h1M81.4,442.3h1M77.3,445.7h1M105.3,439.3h1M87.8,443.8h1M77.5,439.0h1M92.1,438.8h1M78.8,438.2h1M125.1,443.2h1M76.0,448.7h1M77.2,442.2h1M75.6,441.3h1M82.6,440.2h1M101.7,440.9h1M79.5,441.5h1M88.6,439.7h1M72.8,442.7h1M81.9,444.1h1M76.7,444.3h1M77.9,444.8h1M88.4,445.1h1M83.1,443.9h1M79.0,440.3h1M80.6,441.4h1M73.8,443.2h1M84.9,441.0h1M99.2,440.6h1M90.4,437.6h1M128.2,428.7h1M84.6,434.0h1M84.2,445.4h1M84.9,441.6h1M93.7,440.6h1M80.1,439.9h1M78.5,443.3h1M119.8,439.8h1M99.7,439.7h1M96.1,437.1h1M92.9,441.1h1M104.4,444.2h1M101.3,435.9h1M98.4,439.6h1M95.0,441.3h1M80.4,445.8h1M87.3,437.6h1M79.1,441.2h1M89.4,441.8h1M77.8,439.6h1M86.8,444.2h1M84.0,435.5h1M77.2,444.1h1M112.2,441.4h1M86.5,432.8h1M99.8,446.6h1M87.5,441.2h1M98.6,438.5h1M89.3,439.0h1M84.0,443.4h1M78.6,443.5h1M101.8,440.8h1M82.1,442.1h1M95.5,439.3h1M78.6,442.8h1M83.6,437.2h1M86.1,440.6h1M84.9,438.7h1M84.1,443.1h1M83.7,440.4h1M82.3,441.5h1M89.5,437.9h1M73.1,438.7h1M87.3,441.9h1M86.0,435.4h1M97.9,439.9h1M84.7,439.6h1M107.4,436.1h1M76.2,446.9h1M75.7,444.6h1M105.5,444.2h1M101.2,441.7h1M74.2,438.4h1M82.5,443.4h1M72.0,441.8h1M81.8,443.9h1M88.9,443.5h1M125.9,439.3h1M90.0,437.4h1M92.4,441.5h1M74.1,438.9h1M91.4,440.1h1M80.6,440.3h1M112.1,444.8h1M86.6,435.1h1M74.3,444.1h1M95.7,441.3h1M93.1,439.8h1M111.8,436.9h1M81.3,437.4h1M75.7,443.5h1M85.1,433.8h1M80.2,440.9h1M74.3,440.3h1M73.7,441.4h1M92.3,442.9h1M91.2,443.1h1M111.6,437.7h1M84.3,438.1h1M79.2,444.7h1M75.5,441.5h1M98.5,437.0h1M81.1,441.5h1M87.8,437.4h1M93.2,442.1h1M80.6,442.4h1M93.2,436.5h1M82.4,447.6h1M79.9,444.0h1M81.4,446.4h1M91.1,435.6h1M93.0,438.9h1M73.4,445.7h1M76.6,444.4h1M83.0,440.4h1M77.7,440.2h1M82.4,443.9h1M77.1,439.3h1M88.2,443.6h1M77.5,444.1h1M88.7,442.0h1M78.6,444.7h1M79.7,435.1h1M72.6,442.0h1M87.9,436.8h1M79.4,439.6h1M77.2,444.8h1M89.2,441.5h1M92.1,436.3h1M79.8,438.5h1M94.4,441.7h1M113.4,436.2h1M84.8,441.4h1M98.5,445.3h1M82.8,442.1h1M82.4,443.5h1M87.6,442.3h1M105.3,433.2h1M78.5,444.8h1M75.4,437.4h1M82.9,445.9h1M116.7,437.9h1M117.5,435.7h1M116.1,437.0h1M80.0,441.8h1M86.7,443.2h1M88.1,439.1h1M84.3,436.8h1M110.7,445.7h1M84.8,439.2h1M96.6,438.2h1M118.3,443.0h1M71.9,443.7h1M113.7,439.4h1M93.6,439.5h1M83.1,443.2h1M94.4,442.7h1M100.3,441.5h1M97.2,443.8h1M73.7,445.3h1M78.1,444.6h1M79.2,440.9h1M93.9,437.7h1M77.8,444.0h1M86.6,441.1h1M75.7,444.8h1M83.8,444.9h1M74.9,439.1h1M86.2,438.2h1M95.2,444.0h1M89.4,444.0h1M83.4,439.3h1M74.3,440.4h1M86.3,437.5h1M82.2,447.7h1M77.0,439.9h1M92.0,436.7h1M95.8,443.7h1M106.5,436.6h1M112.5,438.3h1M83.9,440.1h1M80.7,436.9h1M91.9,441.5h1M76.8,439.1h1M81.8,440.6h1M78.2,444.6h1M82.0,443.3h1M84.4,442.8h1M78.6,436.1h1M95.5,442.3h1M81.9,441.6h1M91.1,437.3h1M105.4,435.3h1M89.7,446.2h1M95.1,440.7h1M116.4,438.0h1M83.1,441.2h1M74.7,444.3h1M105.5,435.0h1M76.0,444.8h1M96.0,437.3h1M108.1,435.5h1M82.7,442.4h1M78.1,439.0h1M89.8,437.7h1M76.7,436.0h1M74.6,435.9h1M97.7,440.3h1M84.7,440.4h1M110.0,446.4h1M77.2,441.9h1M137.3,433.3h1M104.3,436.1h1M76.6,436.7h1M100.5,440.0h1M93.5,441.8h1M80.6,441.8h1M98.3,441.7h1M71.8,443.8h1M74.4,443.9h1M90.9,446.5h1M76.0,443.3h1M95.1,438.6h1M79.0,445.2h1M78.8,443.1h1M73.3,438.5h1M73.2,441.1h1M95.1,441.0h1M92.5,436.6h1M79.3,441.3h1M87.5,436.6h1M101.0,441.5h1M82.7,439.3h1M78.4,443.2h1M89.1,442.5h1M78.4,446.3h1M91.2,445.9h1M102.3,439.2h1M74.5,448.1h1M102.2,440.5h1M80.3,443.8h1M73.8,445.8h1M83.1,442.5h1M75.7,438.7h1M77.2,432.5h1M87.4,442.8h1M76.5,438.4h1M78.8,440.2h1M72.9,440.2h1M103.2,432.7h1M113.6,439.6h1M78.9,442.0h1M117.1,438.0h1M74.8,442.2h1M94.7,436.2h1M78.7,442.1h1M75.8,443.3h1M86.6,442.6h1M95.5,439.4h1M87.2,441.5h1M98.0,440.6h1M99.6,444.7h1M76.9,440.9h1M79.6,441.0h1M79.3,443.0h1M95.3,434.9h1M79.7,442.5h1M78.2,446.3h1M77.5,446.1h1M133.7,441.7h1M88.5,439.0h1M93.0,441.6h1M90.4,441.3h1M116.9,437.2h1M96.4,440.9h1M85.6,445.1h1M83.0,440.8h1M103.0,440.8h1M83.5,440.2h1M93.7,440.7h1M74.9,441.6h1M99.6,436.8h1M84.9,440.8h1M96.3,439.8h1M98.7,434.8h1M85.7,444.4h1M86.1,447.9h1M80.0,440.0h1M75.5,444.1h1M118.4,438.9h1M79.9,439.1h1M72.9,447.4h1M82.3,436.9h1M108.1,440.8h1M75.8,438.2h1M81.8,438.9h1M89.8,443.8h1M90.1,435.1h1M99.4,444.0h1M75.4,440.3h1M72.5,448.7h1M101.6,441.6h1M99.1,443.2h1M104.7,439.9h1M73.2,444.5h1M78.8,446.0h1M92.8,439.7h1M93.2,440.3h1M83.3,442.4h1M76.1,446.5h1M80.6,440.6h1M77.9,440.7h1M99.3,443.2h1M122.7,437.2h1M72.3,439.9h1M97.0,439.4h1M77.0,440.1h1M96.6,440.6h1M72.6,443.2h1M76.6,438.6h1M76.8,445.6h1M80.0,440.1h1M79.9,441.4h1M81.0,441.7h1M78.4,439.5h1M84.1,439.1h1M97.4,437.7h1M86.0,436.4h1M75.5,443.1h1M87.6,441.5h1M83.3,444.7h1M74.8,441.8h1M127.0,433.7h1M79.7,443.0h1M75.2,440.3h1M86.5,442.4h1M83.3,445.8h1M96.6,443.9h1M104.1,440.4h1M79.5,438.1h1M77.0,439.0h1M79.3,442.7h1M86.0,440.4h1M78.3,435.4h1M84.7,437.6h1M72.4,442.5h1M88.9,444.5h1M88.1,439.5h1M79.3,440.1h1M82.1,438.9h1M73.0,445.9h1M77.5,446.0h1M80.2,441.6h1M91.3,442.3h1M76.3,443.6h1M77.1,437.7h1M79.5,441.1h1M92.5,435.3h1M97.2,443.9h1M74.1,442.5h1M81.1,441.9h1M85.3,444.5h1M96.6,435.9h1M76.2,439.6h1M111.9,435.4h1M74.9,440.2h1M99.6,439.4h1M79.6,437.0h1M74.8,441.3h1M94.7,437.9h1M98.4,439.1h1M79.5,440.1h1M84.9,443.1h1M103.5,438.6h1M97.3,441.9h1M79.0,443.2h1M73.5,439.4h1M75.0,443.7h1M83.1,439.6h1M87.6,441.8h1M98.3,434.9h1M107.1,445.5h1M95.9,438.2h1M78.4,433.9h1M81.4,443.3h1M121.4,434.3h1M92.7,444.5h1M102.6,440.4h1M77.8,444.0h1M80.4,441.6h1M76.1,443.6h1M82.5,441.1h1M82.0,439.1h1M77.5,442.1h1M94.7,440.1h1M102.9,445.5h1M88.1,444.6h1M74.1,440.3h1M99.6,439.8h1M111.3,436.9h1M75.5,443.7h1M112.3,444.6h1M79.4,439.6h1M76.8,438.4h1M92.3,439.2h1M80.2,439.9h1M89.9,445.8h1M79.1,442.6h1M95.7,435.5h1M78.7,437.3h1M97.3,441.6h1M107.6,441.5h1M101.7,440.8h1M81.9,438.9h1M74.3,442.8h1M89.0,441.5h1M86.8,443.8h1M89.3,443.5h1M101.7,440.3h1M74.7,440.5h1M87.7,440.0h1M82.0,439.5h1M101.3,437.8h1M94.4,443.0h1M86.6,441.0h1M76.5,442.7h1M94.4,445.3h1M107.6,441.8h1M75.2,448.5h1M74.1,446.4h1M77.5,442.7h1M77.8,440.1h1M85.5,442.9h1M80.2,443.2h1M134.5,428.9h1M93.5,442.0h1M87.0,440.9h1M78.4,440.1h1M75.9,440.6h1M80.1,443.6h1M77.8,440.7h1M85.2,442.9h1M121.1,433.9h1M80.4,439.5h1M83.9,443.4h1M79.3,437.9h1M79.8,444.0h1M112.4,438.5h1M96.8,435.3h1M90.1,442.1h1M120.0,435.8h1M98.4,446.3h1M90.6,442.7h1M82.6,442.7h1M78.9,435.5h1M79.9,441.3h1M104.1,440.5h1M86.9,443.6h1M81.7,434.2h1M81.8,440.2h1M92.6,440.1h1M89.2,435.4h1M97.5,443.6h1M83.3,446.0h1M76.4,440.6h1M73.5,437.6h1M85.6,443.2h1M89.4,441.6h1M79.2,438.8h1M131.2,434.8h1M101.1,441.3h1M78.6,439.3h1M78.2,446.1h1M88.4,445.8h1M106.2,445.8h1M83.3,441.5h1M88.5,441.6h1M138.3,429.2h1M91.2,440.3h1M95.2,436.8h1M80.2,443.5h1M85.3,439.9h1M72.0,442.4h1M101.7,440.3h1M89.1,443.3h1M93.5,441.9h1M102.1,444.0h1M101.3,439.3h1M111.2,446.2h1M76.9,434.9h1M82.5,433.2h1M79.8,443.3h1M94.4,443.3h1M77.5,443.5h1M81.9,442.5h1M78.1,434.0h1M87.8,444.1h1M87.2,439.6h1M77.7,440.8h1M100.3,437.8h1M85.5,442.9h1M99.4,443.8h1M121.3,444.6h1M83.1,444.1h1M85.8,439.7h1M90.9,440.1h1M77.0,434.3h1M121.8,434.1h1M82.6,438.9h1M90.6,441.5h1M73.1,443.5h1M87.6,436.8h1M82.9,446.4h1M87.4,437.8h1M83.6,444.1h1M83.4,438.9h1M82.4,440.8h1M77.4,443.8h1M74.4,442.3h1M77.0,444.1h1M103.3,440.8h1M143.3,429.4h1M75.4,439.7h1M85.8,441.1h1M84.1,435.2h1M127.8,430.1h1M100.9,435.3h1M76.0,443.7h1M98.0,444.2h1M83.3,438.5h1M80.0,442.8h1M100.7,440.9h1M83.0,443.0h1M74.4,441.6h1M86.0,440.4h1M92.0,443.8h1M82.5,438.6h1M76.9,438.3h1M71.9,445.3h1M109.6,446.0h1M85.1,441.4h1M91.7,434.2h1M94.2,444.9h1M83.8,445.8h1M109.9,435.9h1M82.0,441.1h1M77.4,446.0h1M87.9,442.2h1M77.1,441.2h1M91.8,438.0h1M80.7,439.8h1M102.6,439.5h1M75.6,437.4h1M102.2,438.6h1M83.6,439.3h1M85.5,443.1h1M86.6,436.2h1M84.6,439.7h1M95.5,440.8h1M79.9,445.1h1M75.3,442.7h1M87.0,440.1h1M82.7,436.5h1M78.1,442.3h1M78.1,440.3h1M82.5,444.6h1M95.1,439.0h1M75.6,443.5h1M104.5,435.5h1M86.9,447.9h1M77.4,440.1h1M90.9,441.7h1M87.2,442.6h1M80.5,436.6h1M92.7,439.0h1M76.9,444.8h1M90.5,440.2h1M73.2,443.9h1M95.1,442.3h1M83.3,438.8h1M124.7,435.1h1M83.3,438.8h1M79.8,449.4h1M90.8,439.3h1M118.4,438.8h1M98.9,444.9h1M74.0,441.8h1M85.1,436.3h1M72.5,439.0h1M78.0,447.5h1M80.5,445.8h1M89.1,444.0h1M117.1,438.2h1M76.0,441.6h1M83.4,443.1h1M96.6,439.8h1M83.2,437.5h1M80.1,442.5h1M92.6,442.2h1M77.4,438.2h1M85.0,439.4h1M85.4,441.3h1M75.5,439.6h1M84.2,441.5h1M97.8,438.2h1M86.5,444.9h1M78.0,439.8h1M75.1,445.7h1M85.4,443.6h1M88.9,441.0h1M81.6,443.3h1M85.6,442.7h1M120.8,439.3h1M77.3,445.2h1M82.5,442.7h1M104.3,438.0h1M97.8,440.2h1M97.2,440.6h1M79.2,441.5h1M78.5,437.9h1M82.5,432.3h1M97.9,436.5h1M85.7,444.0h1M74.8,448.9h1M75.7,441.5h1M87.9,439.3h1M87.3,437.9h1M87.7,439.2h1M92.1,436.3h1M73.9,442.5h1M82.1,440.0h1M92.3,438.0h1M83.5,445.2h1M80.7,441.3h1M75.4,442.0h1M77.3,441.5h1M83.9,439.8h1M83.1,444.1h1M78.4,441.6h1M87.7,438.5h1M92.6,443.3h1M80.7,438.3h1M97.4,440.3h1M89.8,441.5h1M108.9,434.0h1M79.9,438.6h1M81.1,441.3h1M101.0,435.1h1M78.9,442.2h1M83.2,438.1h1M103.3,444.0h1M79.5,439.0h1M95.4,436.7h1M80.6,441.0h1M97.8,441.0h1M82.5,442.8h1M87.9,436.2h1M80.5,440.0h1M121.2,431.3h1M86.0,437.9h1M78.1,449.4h1M80.8,443.2h1M121.9,436.1h1M85.6,441.6h1M76.3,438.9h1M86.0,439.2h1M72.8,440.8h1M83.7,439.0h1M94.7,444.6h1M72.8,440.1h1M78.5,440.0h1M92.5,440.3h1M82.2,442.2h1M93.4,442.2h1M81.8,443.0h1M83.4,448.1h1M79.7,447.7h1M79.8,441.0h1M111.1,440.1h1M80.5,432.5h1M74.2,443.2h1M79.3,442.7h1M90.6,435.0h1M80.2,432.5h1M75.4,445.5h1M75.5,439.7h1M88.7,443.4h1M100.4,442.0h1M88.9,440.8h1M83.7,442.9h1M83.2,447.5h1M94.2,440.3h1M76.1,443.1h1M89.8,438.1h1M82.6,446.7h1M84.7,438.9h1M86.3,437.2h1M79.5,436.0h1M83.8,442.9h1M73.2,446.6h1M98.3,439.2h1M87.3,443.2h1M99.7,444.2h1M96.0,439.0h1M88.8,439.7h1M90.7,436.6h1M76.7,442.3h1M98.5,436.3h1M91.7,437.2h1M86.1,436.4h1M83.4,439.2h1M96.6,439.8h1M102.8,439.5h1M116.6,446.6h1M86.0,441.8h1M99.3,441.6h1M73.1,440.5h1M94.7,441.9h1M80.8,443.7h1M140.7,441.2h1M103.2,439.8h1M75.4,437.9h1M100.2,438.8h1M109.6,442.5h1M80.9,448.9h1M99.8,440.6h1M88.8,443.1h1M73.1,441.9h1M83.2,435.0h1M82.9,439.7h1M89.5,438.3h1M88.7,442.6h1M83.1,446.1h1M75.5,439.6h1M83.8,438.6h1M79.0,447.2h1M80.1,441.7h1M90.8,439.7h1M108.4,438.3h1M124.8,435.6h1M85.9,436.1h1M75.7,440.1h1M79.1,441.5h1M84.2,443.0h1M78.3,445.4h1M90.1,435.0h1M72.7,442.0h1M107.2,437.6h1M108.9,439.0h1M102.7,436.0h1M83.6,439.4h1M74.6,441.3h1M90.7,439.2h1M75.7,442.6h1M79.9,440.9h1M80.0,439.2h1M81.4,441.6h1M83.6,441.1h1M82.3,439.9h1M100.0,442.3h1M73.6,442.0h1M85.0,439.1h1M74.8,443.6h1M88.9,436.1h1M77.9,443.8h1M97.2,436.5h1M79.8,442.6h1M83.6,441.8h1M94.9,440.5h1M76.6,440.7h1M78.7,436.8h1M96.9,443.7h1M82.2,441.9h1M82.5,440.2h1M90.5,438.6h1M76.1,448.5h1M73.1,445.1h1M83.6,438.5h1M85.1,443.5h1M89.4,443.9h1M85.9,440.6h1M96.1,436.4h1M80.8,444.8h1M73.8,443.5h1M86.0,439.7h1M80.7,438.3h1M79.6,441.2h1M85.2,434.8h1M81.5,443.8h1M81.5,444.5h1M76.5,442.2h1M79.2,443.4h1M89.2,442.0h1M80.0,442.1h1M93.2,439.9h1M99.7,439.8h1M88.3,438.6h1M85.9,438.9h1M80.7,440.2h1M75.2,439.7h1M76.1,441.9h1M88.6,438.7h1M80.2,443.9h1M94.0,445.1h1M113.3,439.2h1M75.0,443.0h1M94.2,442.7h1M86.9,444.9h1M75.8,444.5h1M96.4,442.4h1M85.5,441.7h1M99.9,438.4h1M91.6,438.2h1M78.2,447.0h1M104.3,438.7h1M109.8,438.2h1M111.5,442.6h1M120.2,439.8h1M91.6,442.4h1M82.5,444.2h1M79.2,445.7h1M82.3,440.6h1M85.9,443.5h1M72.4,442.1h1M75.7,442.0h1M92.3,440.8h1M76.4,444.4h1M72.9,443.8h1M90.7,436.4h1M77.3,441.5h1M78.3,444.8h1M91.8,437.9h1M91.5,437.8h1M75.7,439.9h1M96.1,433.6h1M86.2,441.3h1M76.0,439.2h1M98.9,441.4h1M88.1,442.2h1M86.2,439.9h1M74.9,440.5h1M72.7,435.5h1M85.1,445.3h1M108.8,439.8h1M88.0,443.7h1M96.1,438.6h1M85.4,445.0h1M100.0,442.3h1M84.0,437.8h1M94.5,437.7h1M88.1,440.2h1M75.7,443.2h1M76.1,437.9h1M127.2,438.3h1M80.7,440.6h1M116.2,439.1h1M83.9,445.4h1M106.4,437.8h1M86.8,444.5h1M102.7,437.5h1M95.4,438.0h1M100.6,442.9h1M96.3,440.7h1M79.6,442.3h1M89.7,445.7h1M82.2,446.6h1M89.1,439.4h1M82.8,443.2h1M108.0,443.2h1M72.8,434.8h1M77.5,442.1h1M84.5,442.3h1M82.3,440.9h1M76.7,440.6h1M76.3,438.0h1M88.7,443.4h1M79.0,436.5h1M71.5,442.8h1M107.0,438.5h1M95.3,443.3h1M117.8,438.6h1M81.8,439.0h1M91.5,435.3h1M80.0,445.6h1M100.0,444.8h1M76.3,442.1h1M75.6,439.3h1M107.7,440.4h1M75.9,440.2h1M74.8,445.8h1M75.2,444.4h1M97.4,437.5h1M73.3,443.9h1M79.7,440.4h1M89.8,435.6h1M76.5,441.2h1M103.9,442.3h1M82.2,444.3h1M87.6,437.7h1M86.4,442.7h1M80.2,439.8h1M88.5,442.8h1M84.0,444.1h1M76.4,441.4h1M97.1,433.4h1M89.0,437.7h1M144.3,438.4h1M120.9,434.0h1M78.9,445.8h1M87.1,442.9h1M83.8,446.6h1M92.0,444.9h1M83.4,439.9h1M74.7,439.0h1M83.0,439.7h1M77.7,438.5h1M85.5,439.1h1M81.9,433.3h1M91.3,443.7h1M74.2,438.9h1M108.8,444.8h1M90.1,442.0h1M97.6,440.7h1M83.9,442.4h1M74.6,439.6h1M96.7,443.9h1M73.5,443.0h1M94.8,438.4h1M78.1,442.5h1M114.3,438.5h1M112.8,436.0h1M96.7,438.6h1M89.8,440.1h1M75.7,442.6h1M126.5,437.7h1M79.4,439.1h1M81.4,438.4h1M91.8,445.0h1M90.4,441.2h1M78.8,439.0h1M90.7,440.0h1M80.2,441.6h1M106.8,435.0h1M97.7,442.1h1M90.0,440.6h1M81.7,439.4h1M75.6,441.4h1M77.8,437.7h1M76.2,442.7h1M80.0,442.7h1M80.5,443.9h1M105.1,438.9h1M91.2,448.2h1M72.5,439.7h1M82.0,435.4h1M73.0,444.9h1" stroke="#1370ff" stroke-width="1" fill="none"/>
<path d="M115.8,441.8h1M110.8,437.5h1M118.7,440.2h1M124.3,441.4h1M131.0,445.8h1M101.7,436.1h1M112.1,441.3h1M109.8,436.1h1M102.1,441.8h1M126.9,439.9h1M140.5,431.4h1M106.5,433.9h1M130.6,439.9h1M101.3,439.6h1M148.8,434.8h1M130.9,431.5h1M114.0,442.2h1M102.1,438.5h1M110.7,444.4h1M129.7,434.4h1M100.2,453.9h1M102.2,445.2h1M107.4,440.4h1M113.6,437.1h1M100.8,439.3h1M121.3,440.7h1M110.5,433.5h1M108.6,435.5h1M110.7,438.3h1M129.2,431.3h1M118.4,435.3h1M149.6,438.5h1M100.9,436.5h1M112.2,442.1h1M114.6,438.5h1M112.3,440.6h1M105.8,446.4h1M123.4,437.9h1M103.1,446.9h1M131.4,441.2h1M137.2,438.1h1M130.9,441.8h1M101.7,437.7h1M108.0,438.7h1M108.4,441.6h1M116.9,441.1h1M119.4,444.6h1M110.6,446.0h1M127.7,437.2h1M103.5,435.6h1M112.7,438.6h1M133.3,441.7h1M102.3,439.8h1M121.9,443.8h1M117.4,442.2h1M143.2,436.8h1M105.1,443.8h1M114.4,428.2h1M102.2,438.4h1M112.6,441.5h1M126.0,439.8h1M108.9,438.1h1M102.1,443.7h1M107.3,440.1h1M139.9,435.1h1M135.1,445.6h1M120.8,436.7h1M106.8,436.6h1M120.5,434.8h1M140.8,440.8h1M106.0,446.8h1M116.4,444.0h1M127.4,436.2h1M116.2,431.9h1M118.9,443.4h1M117.3,445.5h1M104.3,441.0h1M105.2,439.6h1M147.5,440.0h1M139.7,437.6h1M108.0,445.3h1M100.4,436.1h1M102.3,444.9h1M116.4,441.6h1M122.8,445.3h1M142.1,432.9h1M106.3,442.8h1M111.3,442.5h1M114.0,435.7h1M123.7,437.9h1M102.0,438.0h1M124.9,436.6h1M100.3,436.9h1M116.8,443.6h1M103.2,438.7h1M147.8,424.9h1M112.9,442.4h1M100.9,439.0h1M133.3,439.3h1M107.3,438.9h1M127.2,426.5h1M101.3,438.7h1M129.3,442.1h1M109.4,437.4h1M100.1,439.7h1M108.9,437.4h1M118.6,436.1h1M110.7,440.7h1M135.4,438.5h1M116.1,443.5h1M108.3,438.5h1M105.2,436.3h1M105.4,437.9h1M106.5,436.2h1M109.5,431.0h1M116.8,436.3h1M110.4,441.0h1M115.6,438.9h1M100.1,444.5h1M101.4,441.1h1M132.3,440.6h1M100.2,436.8h1M125.5,436.7h1M141.2,442.8h1M107.2,442.7h1M127.1,432.8h1M117.4,449.6h1M100.2,445.0h1M105.7,442.5h1M140.4,430.5h1M100.7,444.5h1M126.3,431.7h1M143.7,437.0h1M149.1,437.0h1M116.6,440.5h1M122.2,438.5h1M103.9,439.1h1M102.5,442.0h1M111.6,436.8h1M108.8,441.6h1M126.0,436.7h1M118.7,443.8h1M106.5,440.8h1M106.7,445.8h1M125.2,438.2h1M110.5,443.6h1M113.3,437.3h1M118.4,442.8h1M101.0,439.8h1M100.1,435.3h1M145.5,431.6h1M106.0,439.7h1M119.3,446.8h1M103.9,440.7h1M108.8,442.1h1M119.5,446.8h1M106.9,435.9h1M127.3,433.7h1M112.3,442.8h1M104.5,441.7h1M101.4,434.9h1M104.1,437.6h1M118.2,433.8h1M115.7,440.1h1M124.7,440.6h1M106.8,443.7h1M114.3,436.3h1M100.3,446.4h1M110.5,436.1h1M103.4,442.4h1M118.8,441.2h1M113.8,437.4h1M103.8,441.3h1M140.5,430.9h1M113.1,437.9h1M107.7,439.7h1M123.9,437.7h1M102.6,449.5h1M108.4,442.9h1M124.0,442.3h1M150.2,433.2h1M105.3,442.8h1M109.5,440.2h1M131.2,437.9h1M102.4,443.7h1M136.6,439.5h1M105.0,436.3h1M106.1,441.0h1M102.7,432.8h1M106.0,431.4h1M106.6,433.8h1M100.5,434.3h1M131.0,433.5h1M105.8,436.2h1M133.3,440.4h1M129.6,440.1h1M132.6,434.7h1M101.0,438.3h1M113.1,436.4h1M118.1,438.3h1M103.6,448.1h1M108.2,440.9h1M129.9,438.8h1M101.6,443.2h1M114.3,443.7h1M100.1,438.3h1M110.1,434.7h1M104.5,439.6h1M101.8,443.0h1M102.3,435.1h1M104.5,441.3h1M135.9,434.1h1M103.2,445.5h1M144.7,435.4h1M129.4,437.0h1M123.7,440.6h1M125.1,437.7h1M114.1,436.7h1M108.1,438.8h1M115.6,437.8h1M139.6,435.7h1M126.6,432.7h1M135.5,434.7h1M101.1,447.7h1M113.0,438.2h1M144.9,438.3h1M113.2,437.4h1M126.2,435.0h1M118.3,428.4h1M102.7,439.9h1M143.7,442.9h1M116.7,437.2h1M133.4,445.8h1M132.4,442.0h1M109.1,435.8h1M150.7,444.0h1M103.1,449.1h1M118.3,443.7h1M114.1,436.9h1M107.5,440.0h1M102.3,442.0h1M109.7,442.1h1M136.8,435.8h1M122.1,435.1h1M127.2,436.2h1M121.9,434.9h1M105.7,440.9h1M112.5,441.8h1M107.4,436.9h1M104.7,438.4h1M132.6,439.2h1M119.0,430.6h1M126.2,438.9h1M142.7,439.3h1M121.7,435.5h1M104.1,438.9h1M110.4,436.9h1M101.6,447.2h1M105.7,443.7h1M125.8,436.9h1M93.4,448.7h1M108.5,456.4h1M121.5,439.3h1M76.0,443.2h1M112.7,451.4h1M102.9,441.2h1M139.0,440.7h1M80.1,450.4h1M87.4,447.8h1M109.6,450.8h1M115.5,451.2h1M125.4,432.1h1M89.4,459.5h1M92.9,439.1h1M115.1,443.4h1M95.8,435.0h1M112.8,442.3h1M75.0,442.5h1M81.4,455.6h1M87.7,450.5h1M124.0,432.3h1M104.9,446.7h1M102.0,434.8h1M116.3,442.6h1M116.5,441.4h1M93.7,433.7h1M81.1,453.6h1M85.7,433.4h1M132.9,442.5h1M92.8,439.0h1M120.4,436.0h1M95.6,455.6h1M87.6,441.1h1M113.5,434.7h1M74.8,441.7h1M79.3,452.0h1M84.2,441.1h1M89.8,442.5h1M85.3,449.3h1M88.0,438.5h1M82.2,441.4h1M104.6,439.3h1M122.7,448.5h1M85.7,437.8h1M117.7,447.5h1M90.3,445.5h1M122.7,438.7h1M94.7,451.9h1M103.4,448.3h1M84.6,454.7h1M142.7,427.5h1M77.4,456.4h1M82.8,450.0h1M93.3,446.5h1M101.1,444.3h1M105.7,438.0h1M85.1,443.9h1M109.3,445.9h1M126.0,441.6h1M142.1,436.4h1M110.8,438.9h1M119.8,433.9h1M83.6,443.2h1M110.8,440.0h1M119.0,432.8h1M102.1,443.0h1M107.4,442.9h1M89.7,447.6h1M106.7,392.2h1M100.6,407.0h1M116.7,406.0h1M129.8,413.0h1M142.0,428.0h1M123.0,404.0h1M150.0,437.0h1M147.0,441.0h1M149.0,444.0h1M98.0,424.0h1M141.0,448.0h1M117.0,455.0h1" stroke="#3d8bff" stroke-width="1" fill="none" opacity=".9"/>
<line x1="222.1" y1="374.8" x2="222.1" y2="486.20000000000005" stroke="#000" stroke-width="1.2" />
<line x1="221.5" y1="485.6" x2="330.5" y2="485.6" stroke="#000" stroke-width="1.2" />
<line x1="218.3" y1="485.6" x2="222.1" y2="485.6" stroke="#000" stroke-width="1.2" />
<text x="217.3" y="488.8" font-size="9" font-weight="bold" text-anchor="end" fill="#000" >0</text>
<line x1="218.3" y1="463.52000000000004" x2="222.1" y2="463.52000000000004" stroke="#000" stroke-width="1.2" />
<text x="217.3" y="466.72" font-size="9" font-weight="bold" text-anchor="end" fill="#000" >20</text>
<line x1="218.3" y1="441.44000000000005" x2="222.1" y2="441.44000000000005" stroke="#000" stroke-width="1.2" />
<text x="217.3" y="444.64000000000004" font-size="9" font-weight="bold" text-anchor="end" fill="#000" >40</text>
<line x1="218.3" y1="419.36" x2="222.1" y2="419.36" stroke="#000" stroke-width="1.2" />
<text x="217.3" y="422.56" font-size="9" font-weight="bold" text-anchor="end" fill="#000" >60</text>
<line x1="218.3" y1="397.28000000000003" x2="222.1" y2="397.28000000000003" stroke="#000" stroke-width="1.2" />
<text x="217.3" y="400.48" font-size="9" font-weight="bold" text-anchor="end" fill="#000" >80</text>
<line x1="218.3" y1="375.20000000000005" x2="222.1" y2="375.20000000000005" stroke="#000" stroke-width="1.2" />
<text x="217.3" y="378.40000000000003" font-size="9" font-weight="bold" text-anchor="end" fill="#000" >100</text>
<line x1="247.8" y1="485.6" x2="247.8" y2="489.1" stroke="#000" stroke-width="1.2" />
<text x="247.8" y="501" font-size="9" font-weight="bold" text-anchor="middle" fill="#000" >1:1</text>
<line x1="305.6" y1="485.6" x2="305.6" y2="489.1" stroke="#000" stroke-width="1.2" />
<text x="305.6" y="501" font-size="9" font-weight="bold" text-anchor="middle" fill="#000" >5:1</text>
<text x="276" y="514" font-size="11.3" font-weight="bold" text-anchor="middle" fill="#000" >Effector:Target ratio</text>
<text x="0" y="0" font-size="11.3" font-weight="bold" text-anchor="middle" fill="#000" transform="translate(197.8,429.8) rotate(-90)">Ramos killing [%]</text>
<line x1="232.79999999999998" y1="410.7" x2="232.79999999999998" y2="415.1" stroke="#2a2a2a" stroke-width="1.0" />
<line x1="230.1" y1="410.7" x2="235.49999999999997" y2="410.7" stroke="#2a2a2a" stroke-width="1.0" />
<rect x="228.45" y="415.85" width="8.9" height="69.75" fill="#222" stroke="#000" stroke-width="1.5"/>
<line x1="248.29999999999998" y1="407.6" x2="248.29999999999998" y2="409.2" stroke="#2a2a2a" stroke-width="1.0" />
<line x1="245.6" y1="407.6" x2="250.99999999999997" y2="407.6" stroke="#2a2a2a" stroke-width="1.0" />
<rect x="243.95" y="409.95" width="8.9" height="75.65000000000003" fill="#969696" stroke="#000" stroke-width="1.5"/>
<line x1="264.0" y1="403.0" x2="264.0" y2="408.3" stroke="#2a2a2a" stroke-width="1.0" />
<line x1="261.3" y1="403.0" x2="266.7" y2="403.0" stroke="#2a2a2a" stroke-width="1.0" />
<rect x="259.65" y="409.05" width="8.9" height="76.55000000000001" fill="#e2e2e2" stroke="#000" stroke-width="1.5"/>
<line x1="264.0" y1="408.3" x2="264.0" y2="413.6" stroke="#444" stroke-width="1.0" />
<line x1="261.3" y1="413.6" x2="266.7" y2="413.6" stroke="#444" stroke-width="1.0" />
<line x1="290.6" y1="386.5" x2="290.6" y2="388.2" stroke="#2a2a2a" stroke-width="1.0" />
<line x1="287.90000000000003" y1="386.5" x2="293.3" y2="386.5" stroke="#2a2a2a" stroke-width="1.0" />
<rect x="286.25" y="388.95" width="8.9" height="96.65000000000003" fill="#222" stroke="#000" stroke-width="1.5"/>
<line x1="306.0" y1="384.3" x2="306.0" y2="385.1" stroke="#2a2a2a" stroke-width="1.0" />
<line x1="303.3" y1="384.3" x2="308.7" y2="384.3" stroke="#2a2a2a" stroke-width="1.0" />
<rect x="301.65" y="385.85" width="8.9" height="99.75" fill="#969696" stroke="#000" stroke-width="1.5"/>
<line x1="321.5" y1="381.9" x2="321.5" y2="382.6" stroke="#2a2a2a" stroke-width="1.0" />
<line x1="318.8" y1="381.9" x2="324.2" y2="381.9" stroke="#2a2a2a" stroke-width="1.0" />
<rect x="317.15" y="383.35" width="8.9" height="102.25" fill="#e2e2e2" stroke="#000" stroke-width="1.5"/>
<rect x="232.6" y="331.1" width="13.2" height="4.4" fill="#222" stroke="#000" stroke-width="1.1"/>
<rect x="232.6" y="345.0" width="13.2" height="4.4" fill="#969696" stroke="#000" stroke-width="1.1"/>
<rect x="232.6" y="358.90000000000003" width="13.2" height="4.4" fill="#e2e2e2" stroke="#000" stroke-width="1.1"/>
<text x="250" y="336.4" font-size="10.4" font-weight="bold" text-anchor="start" fill="#000" >CD45<tspan font-size="7.2" font-weight="normal" dy="-3.2">neg</tspan><tspan dy="3.2" font-size="1">&#8203;</tspan> + Ramos</text>
<text x="250" y="350" font-size="10.4" font-weight="bold" text-anchor="start" fill="#000" >CD45<tspan font-size="7.2" font-weight="normal" dy="-3.2">pos</tspan><tspan dy="3.2" font-size="1">&#8203;</tspan> + Ramos</text>
<text x="250" y="363.9" font-size="10.4" font-weight="bold" text-anchor="start" fill="#000" >CD45<tspan font-size="7.2" font-weight="normal" dy="-3.2">neg</tspan><tspan dy="3.2" font-size="1">&#8203;</tspan> + TransAct</text>
<line x1="407.7" y1="337.4" x2="407.7" y2="471.75" stroke="#000" stroke-width="1.3" />
<line x1="407.05" y1="471.1" x2="535" y2="471.1" stroke="#000" stroke-width="1.3" />
<line x1="402.3" y1="471.1" x2="407.7" y2="471.1" stroke="#000" stroke-width="1.3" />
<text x="399.6" y="474.5" font-size="9.7" font-weight="bold" text-anchor="end" fill="#000" >0</text>
<line x1="402.3" y1="426.70000000000005" x2="407.7" y2="426.70000000000005" stroke="#000" stroke-width="1.3" />
<text x="399.6" y="430.1" font-size="9.7" font-weight="bold" text-anchor="end" fill="#000" >20</text>
<line x1="402.3" y1="382.3" x2="407.7" y2="382.3" stroke="#000" stroke-width="1.3" />
<text x="399.6" y="385.7" font-size="9.7" font-weight="bold" text-anchor="end" fill="#000" >40</text>
<line x1="402.3" y1="337.90000000000003" x2="407.7" y2="337.90000000000003" stroke="#000" stroke-width="1.3" />
<text x="399.6" y="341.3" font-size="9.7" font-weight="bold" text-anchor="end" fill="#000" >60</text>
<line x1="427.1" y1="471.1" x2="427.1" y2="476.1" stroke="#000" stroke-width="1.3" />
<line x1="471.6" y1="471.1" x2="471.6" y2="476.1" stroke="#000" stroke-width="1.3" />
<line x1="516.4" y1="471.1" x2="516.4" y2="476.1" stroke="#000" stroke-width="1.3" />
<rect x="414.05" y="466.75" width="9.2" height="4.350000000000023" fill="#000" stroke="#000" stroke-width="1.5"/>
<rect x="431.15" y="371.35" width="9.2" height="99.75" fill="#a3a3a3" stroke="#000" stroke-width="1.5"/>
<rect x="458.75" y="462.35" width="9.2" height="8.75" fill="#000" stroke="#000" stroke-width="1.5"/>
<rect x="475.65" y="375.45" width="9.2" height="95.65000000000003" fill="#a3a3a3" stroke="#000" stroke-width="1.5"/>
<rect x="503.45" y="453.85" width="9.2" height="17.25" fill="#000" stroke="#000" stroke-width="1.5"/>
<rect x="520.35" y="348.85" width="9.2" height="122.25" fill="#a3a3a3" stroke="#000" stroke-width="1.5"/>
<text x="410.1" y="496" font-size="10" font-weight="bold" text-anchor="start" fill="#000" >CD45<tspan font-size="7.3" font-weight="normal" dy="-3.7">ko</tspan><tspan dy="3.7" font-size="1">&#8203;</tspan></text>
<text x="453.2" y="496" font-size="10" font-weight="bold" text-anchor="start" fill="#000" >CD45<tspan font-size="7.3" font-weight="normal" dy="-3.7">pos</tspan><tspan dy="3.7" font-size="1">&#8203;</tspan></text>
<text x="500.1" y="496" font-size="10" font-weight="bold" text-anchor="start" fill="#000" >CD45<tspan font-size="7.3" font-weight="normal" dy="-3.7">ko</tspan><tspan dy="3.7" font-size="1">&#8203;</tspan></text>
<text x="446.7" y="511.3" font-size="10" font-weight="bold" text-anchor="middle" fill="#000" >Ramos</text>
<text x="509.3" y="511.3" font-size="10" font-weight="bold" text-anchor="middle" fill="#000" >TransAct</text>
<text x="0" y="0" font-size="11.3" font-weight="bold" text-anchor="middle" fill="#000" transform="translate(385.2,407.7) rotate(-90)">Rate of pos. cells [%]</text>
<rect x="443.4" y="331.3" width="8.6" height="4.2" fill="#000"/>
<rect x="443.9" y="342.2" width="7.8" height="3.4" fill="#a3a3a3" stroke="#000" stroke-width="1"/>
<text x="456.2" y="336.4" font-size="8.7" font-weight="bold" text-anchor="start" fill="#000" >CAR<tspan font-size="6.3" font-weight="bold" dy="-2.8">+</tspan><tspan dy="2.8" font-size="1">&#8203;</tspan>/PD-1<tspan font-size="6.3" font-weight="bold" dy="-2.8">+</tspan><tspan dy="2.8" font-size="1">&#8203;</tspan></text>
<text x="456.2" y="346.7" font-size="8.7" font-weight="bold" text-anchor="start" fill="#000" >CAR<tspan font-size="6.3" font-weight="bold" dy="-2.8">+</tspan><tspan dy="2.8" font-size="1">&#8203;</tspan>/TIM3<tspan font-size="6.3" font-weight="bold" dy="-2.8">+</tspan><tspan dy="2.8" font-size="1">&#8203;</tspan></text>
</svg>
</body></html>
